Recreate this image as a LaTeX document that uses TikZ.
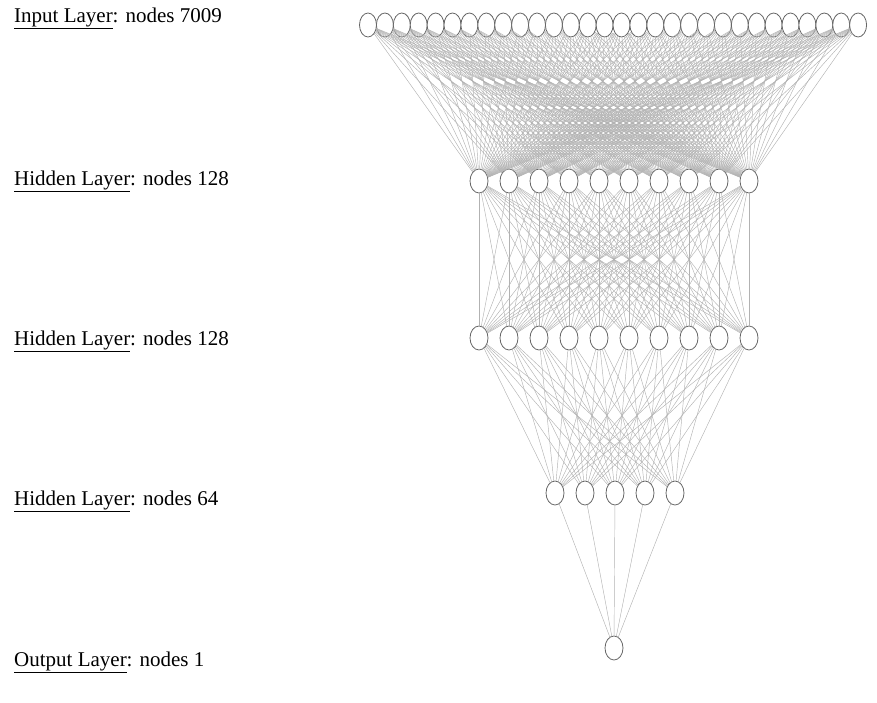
\documentclass[tikz,border=0pt]{standalone}
\usepackage{fontspec}
\setmainfont{Liberation Serif}
\usetikzlibrary{shapes.geometric}
\begin{document}
\begin{tikzpicture}[x=1pt,y=-1pt,
  neuron/.style={ellipse,draw=black!60,line width=0.8pt,fill=white,minimum width=18pt,minimum height=24pt,inner sep=0pt},
  edge/.style={draw=black!30,line width=0.45pt},
  lbl/.style={anchor=west,font=\fontsize{21}{24}\selectfont,inner sep=0pt}]
\useasboundingbox (0,0) rectangle (877,703);
\node[lbl] (l0) at (14,18) {\underline{Input Layer}: nodes 7009};
\node[lbl] (l1) at (14,181) {\underline{Hidden Layer}: nodes 128};
\node[lbl] (l2) at (14,341) {\underline{Hidden Layer}: nodes 128};
\node[lbl] (l3) at (14,501) {\underline{Hidden Layer}: nodes 64};
\node[lbl] (l4) at (14,662) {\underline{Output Layer}: nodes 1};
\foreach \i in {1,...,30} \node[neuron,minimum width=17pt] (a\i) at ({368+(\i-1)*16.9},25) {};
\foreach \i in {1,...,10} \node[neuron] (b\i) at ({479+(\i-1)*30},181) {};
\foreach \i in {1,...,10} \node[neuron] (c\i) at ({479+(\i-1)*30},338) {};
\foreach \i in {1,...,5} \node[neuron] (d\i) at ({555+(\i-1)*30},493) {};
\node[neuron] (e1) at (614,648) {};
\foreach \i in {1,...,30} \foreach \j in {1,...,10} \draw[edge] (a\i) -- (b\j);
\foreach \i in {1,...,10} \foreach \j in {1,...,10} \draw[edge] (b\i) -- (c\j);
\foreach \i in {1,...,10} \foreach \j in {1,...,5} \draw[edge] (c\i) -- (d\j);
\foreach \i in {1,...,5} \draw[edge] (d\i) -- (e1);
\end{tikzpicture}
\end{document}
